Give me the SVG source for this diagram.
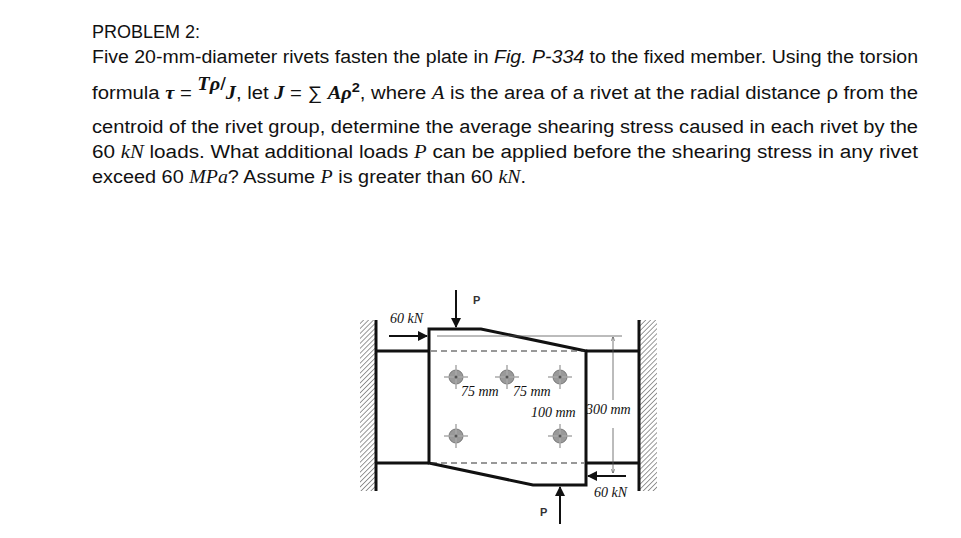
<svg xmlns="http://www.w3.org/2000/svg" width="961" height="538" viewBox="0 0 961 538">
<style>
.t{font-family:"Liberation Sans",Arial,sans-serif;font-size:18px;fill:#111}
.m{font-family:"Liberation Serif",serif;font-style:italic}
.b{font-weight:bold}
.d{font-family:"Liberation Serif",serif;font-style:italic;font-size:14px;fill:#111}
.p{font-family:"Liberation Sans",Arial,sans-serif;font-weight:bold;font-size:11px;fill:#333}
.k{stroke:#111;stroke-width:3;fill:none}
</style>
<defs>
<pattern id="h" width="3.5" height="3.5" patternUnits="userSpaceOnUse" patternTransform="rotate(45)"><rect width="4" height="4" fill="#fff"/><line x1="0" y1="0" x2="0" y2="4" stroke="#777" stroke-width="1.5"/></pattern>
<marker id="a" viewBox="0 0 10 10" refX="9" refY="5" markerWidth="5" markerHeight="5" orient="auto"><path d="M0,0L10,5L0,10z" fill="#111"/></marker>
<marker id="s" viewBox="0 0 10 10" refX="9" refY="5" markerWidth="6" markerHeight="6" orient="auto"><path d="M0,1L10,5L0,9" fill="none" stroke="#333"/></marker>
<g id="rv"><circle r="7" fill="#999" stroke="#777"/><line x1="-12" x2="12" stroke="#aaa" stroke-width="1.5"/><line y1="-12" y2="12" stroke="#aaa" stroke-width="1.5"/><circle r="1.5" fill="#555"/></g>
</defs>
<g id="text" class="t">
<text x="92" y="38">PROBLEM 2:</text>
<text x="92" y="63" textLength="826" lengthAdjust="spacingAndGlyphs">Five 20-mm-diameter rivets fasten the plate in <tspan font-style="italic">Fig. P-334</tspan> to the fixed member. Using the torsion</text>
<text x="92" y="99" textLength="826" lengthAdjust="spacingAndGlyphs">formula <tspan class="m b">τ</tspan> = <tspan class="m b" dy="-9">Tρ</tspan><tspan dy="0">/</tspan><tspan class="m b" dy="9">J</tspan>, let <tspan class="m b">J</tspan> = ∑ <tspan class="m b">Aρ</tspan><tspan class="b" dy="-7" font-size="13">2</tspan><tspan dy="7">, where </tspan><tspan class="m">A</tspan> is the area of a rivet at the radial distance ρ from the</text>
<text x="92" y="133" textLength="826" lengthAdjust="spacingAndGlyphs">centroid of the rivet group, determine the average shearing stress caused in each rivet by the</text>
<text x="92" y="158" textLength="826" lengthAdjust="spacingAndGlyphs">60 <tspan class="m">kN</tspan> loads. What additional loads <tspan class="m">P</tspan> can be applied before the shearing stress in any rivet</text>
<text x="92" y="183" textLength="434" lengthAdjust="spacingAndGlyphs">exceed 60 <tspan class="m">MPa</tspan>? Assume <tspan class="m">P</tspan> is greater than 60 <tspan class="m">kN</tspan>.</text>
</g>
<g id="walls">
<rect x="360" y="320" width="16" height="171" fill="url(#h)"/>
<line x1="376" y1="320" x2="376" y2="491" class="k"/>
<rect x="639" y="320" width="18" height="171" fill="url(#h)"/>
<line x1="639" y1="320" x2="639" y2="491" class="k"/>
</g>
<g id="beams">
<line x1="376" y1="351" x2="429" y2="351" class="k"/>
<line x1="376" y1="463" x2="429" y2="463" class="k"/>
<line x1="586" y1="351" x2="639" y2="351" class="k"/>
<line x1="586" y1="463" x2="639" y2="463" class="k"/>
</g>
<g id="plate">
<path d="M429,329H481L586,351V485H533L429,463Z" fill="#fff" class="k" stroke-linejoin="miter"/>
<line x1="431" y1="351" x2="584" y2="351" stroke="#333" stroke-dasharray="6,4" stroke-width="1.2"/>
<line x1="431" y1="463" x2="584" y2="463" stroke="#333" stroke-dasharray="6,4" stroke-width="1.2"/>
</g>
<g id="rivets">
<use href="#rv" x="456" y="377"/><use href="#rv" x="507" y="377"/><use href="#rv" x="560" y="377"/>
<use href="#rv" x="456" y="436"/><use href="#rv" x="560" y="436"/>
</g>
<g id="connectors">
<line x1="389" y1="336" x2="427" y2="336" stroke="#111" stroke-width="2" marker-end="url(#a)"/>
<line x1="456" y1="290" x2="456" y2="327" stroke="#111" stroke-width="2" marker-end="url(#a)"/>
<line x1="560" y1="524" x2="560" y2="487" stroke="#111" stroke-width="2" marker-end="url(#a)"/>
<line x1="626" y1="476" x2="588" y2="476" stroke="#111" stroke-width="2" marker-end="url(#a)"/>
<line x1="437" y1="336" x2="622" y2="336" stroke="#555" stroke-width="0.8"/>
<line x1="613" y1="400" x2="613" y2="337" stroke="#555" stroke-width="0.8" marker-end="url(#s)"/>
<line x1="613" y1="428" x2="613" y2="473" stroke="#555" stroke-width="0.8" marker-end="url(#s)"/>
</g>
<g id="labels">
<text x="390" y="323" class="d">60 kN</text>
<text x="473" y="304" class="p">P</text>
<text x="540" y="516" class="p">P</text>
<text x="461" y="396" class="d">75 mm</text>
<text x="513" y="396" class="d">75 mm</text>
<text x="531" y="417" class="d">100 mm</text>
<text x="586" y="414" class="d">300 mm</text>
<text x="594" y="497" class="d">60 kN</text>
</g>
</svg>
